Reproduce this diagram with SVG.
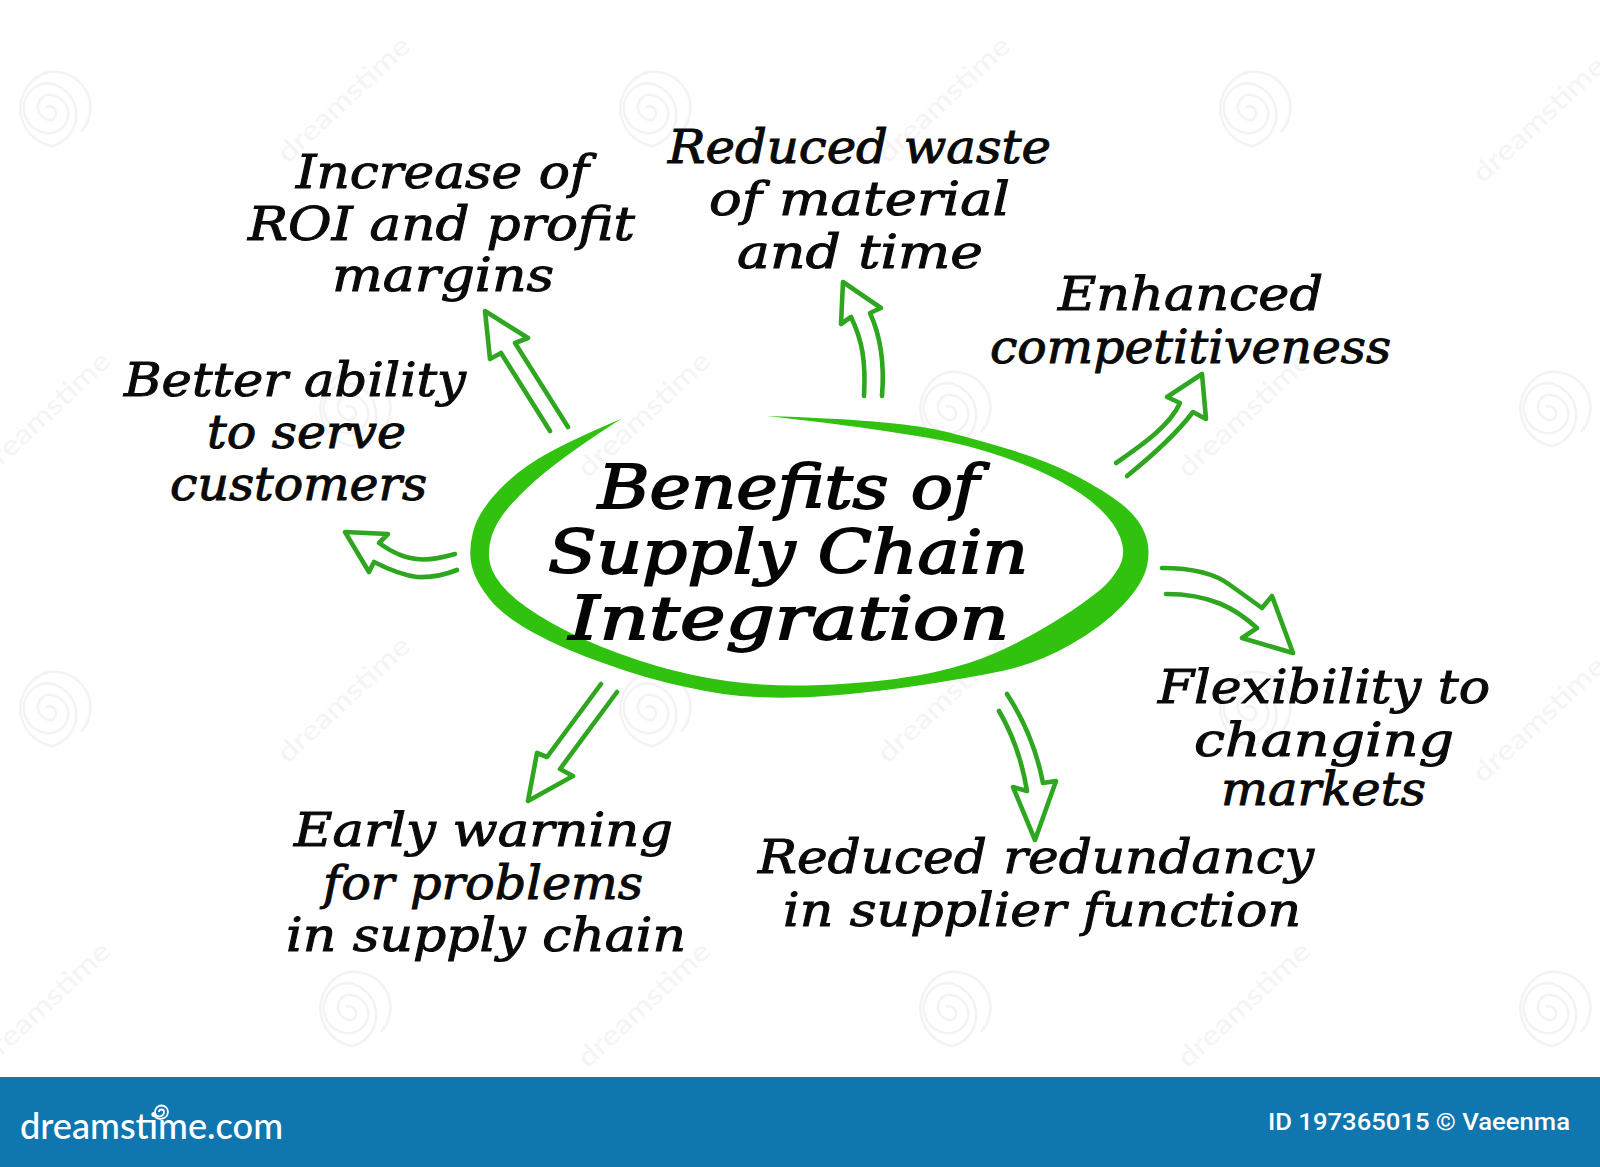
<svg xmlns="http://www.w3.org/2000/svg" width="1600" height="1167" viewBox="0 0 1600 1167">
<style>
.t{font-family:"DejaVu Serif","Liberation Serif",serif;font-style:italic;font-size:46px;fill:#0a0a0a;stroke:#0a0a0a;stroke-width:1}
.h{font-family:"DejaVu Serif","Liberation Serif",serif;font-style:italic;font-size:60px;fill:#050505;stroke:#050505;stroke-width:1.8}
.a{fill:none;stroke:#2ea61f;stroke-width:4.6;stroke-linejoin:round;stroke-linecap:round}
.s{fill:none;stroke:#f3f3f3;stroke-width:2.5}
.w{font-family:"Lato","Liberation Sans",sans-serif;font-size:27px;fill:#f4f4f4}
</style>
<defs>
<path id="sp" d="M-3,-4 A7,7 0 0 1 3,9 A13,13 0 0 1 -3,-16 A19,19 0 0 1 3,22 A25,25 0 0 1 -3,-28 A32,32 0 0 1 3,35 A38,38 0 0 1 -4,-38 A36,36 0 0 1 32,21"/>
<text id="wt" class="w" text-anchor="middle" x="0" y="0" textLength="170" lengthAdjust="spacingAndGlyphs">dreamstime</text>
</defs>
<rect width="1600" height="1167" fill="#fff"/>
<g id="watermark">
<use href="#sp" class="s" x="49" y="111"/><use href="#sp" class="s" x="649" y="111"/><use href="#sp" class="s" x="1249" y="111"/>
<use href="#sp" class="s" x="349" y="411"/><use href="#sp" class="s" x="949" y="411"/><use href="#sp" class="s" x="1549" y="411"/>
<use href="#sp" class="s" x="49" y="711"/><use href="#sp" class="s" x="649" y="711"/><use href="#sp" class="s" x="1249" y="711"/>
<use href="#sp" class="s" x="349" y="1011"/><use href="#sp" class="s" x="949" y="1011"/><use href="#sp" class="s" x="1549" y="1011"/>
<use href="#wt" transform="translate(350,106) rotate(-43)"/><use href="#wt" transform="translate(950,106) rotate(-43)"/><use href="#wt" transform="translate(1545,126) rotate(-43)"/>
<use href="#wt" transform="translate(50,421) rotate(-43)"/><use href="#wt" transform="translate(650,421) rotate(-43)"/><use href="#wt" transform="translate(1250,421) rotate(-43)"/>
<use href="#wt" transform="translate(350,706) rotate(-43)"/><use href="#wt" transform="translate(950,706) rotate(-43)"/><use href="#wt" transform="translate(1545,726) rotate(-43)"/>
<use href="#wt" transform="translate(50,1011) rotate(-43)"/><use href="#wt" transform="translate(650,1011) rotate(-43)"/><use href="#wt" transform="translate(1250,1011) rotate(-43)"/>
</g>
<g id="connectors">
<path class="a" d="M550,431 L501,353 L490,359 L485,311 L528,338 L515,343 L568,427"/>
<path class="a" d="M455,554 Q430,561 417,559 Q400,558 379,543 L388,534 L345,532 L369,572 L374,562 Q400,575 417,577 Q437,578 457,570"/>
<path class="a" d="M864,396 C866,360 862,340 851,317 L841,324 L843,282 L881,308 L870,313 C880,335 885,360 882,396"/>
<path class="a" d="M1116,463 C1145,443 1170,425 1180,403 L1167,397 L1202,374 L1206,419 L1193,412 C1177,433 1153,455 1127,476"/>
<path class="a" d="M1162,568 C1190,568 1213,572 1230,585 L1262,608 L1272,596 L1293,653 L1242,638 L1257,628 C1235,608 1210,594 1166,594"/>
<path class="a" d="M1007,694 C1027,725 1038,757 1043,783 L1056,781 L1035,840 L1013,787 L1027,791 C1022,760 1013,735 999,711"/>
<path class="a" d="M601,684 L547,757 L537,753 L528,801 L573,776 L560,769 L617,692"/>
</g>
<g id="hub">
<path fill="#30c20e" d="M621,419 Q578,437 550,452 Q520,468 499,490 Q478,512 473,532 Q468,552 472,567 Q476,582 489.5,599 Q503,616 534,633 Q565,650 606,664 Q647,679 686,687 Q725,696 757,697 Q789,699 832.5,695.5 Q876,692 922,685 Q968,678 1002,671 Q1036,664 1069,645.5 Q1102,627 1122.5,605.5 Q1143,584 1147,566 Q1151,548 1144.5,532.5 Q1138,517 1121.5,504 Q1105,491 1076.5,476 Q1048,461 1008,449 Q968,437 942.5,431 Q917,425 873.5,421.5 Q830,418 767,416 Q830,423 864.5,428 Q899,433 929,438 Q959,443 986.5,451.5 Q1014,460 1037,470 Q1060,480 1080.5,493.5 Q1101,507 1113,524 Q1122,537 1123,549 Q1124,561 1116,572 Q1108,585 1091,597 Q1074,610 1049,625 Q1024,640 997.5,652 Q971,664 935,672 Q899,680 848.5,683.5 Q798,687 761.5,684.5 Q725,682 690.5,674.5 Q656,667 619,653.5 Q582,640 552.5,623.5 Q523,607 508,592 Q493,577 490,563.5 Q487,550 492,535 Q497,520 512,503.5 Q527,487 545.5,472 Q564,457 592,438 Q610,426 621,419 Z"/>
<text class="h" x="598" y="508" textLength="381" lengthAdjust="spacingAndGlyphs">Benefits of</text>
<text class="h" x="548" y="573" textLength="480" lengthAdjust="spacingAndGlyphs">Supply Chain</text>
<text class="h" x="569" y="639" textLength="440" lengthAdjust="spacingAndGlyphs">Integration</text>
</g>
<g id="n-roi">
<text class="t" x="296" y="188" textLength="293" lengthAdjust="spacingAndGlyphs">Increase of</text>
<text class="t" x="248" y="240" textLength="387" lengthAdjust="spacingAndGlyphs">ROI and profit</text>
<text class="t" x="332" y="291" textLength="222" lengthAdjust="spacingAndGlyphs">margins</text>
</g>
<g id="n-waste">
<text class="t" x="668" y="163" textLength="383" lengthAdjust="spacingAndGlyphs">Reduced waste</text>
<text class="t" x="709" y="215" textLength="301" lengthAdjust="spacingAndGlyphs">of material</text>
<text class="t" x="737" y="268" textLength="246" lengthAdjust="spacingAndGlyphs">and time</text>
</g>
<g id="n-competitive">
<text class="t" x="1058" y="310" textLength="265" lengthAdjust="spacingAndGlyphs">Enhanced</text>
<text class="t" x="990" y="363" textLength="401" lengthAdjust="spacingAndGlyphs">competitiveness</text>
</g>
<g id="n-customers">
<text class="t" x="124" y="396" textLength="342" lengthAdjust="spacingAndGlyphs">Better ability</text>
<text class="t" x="207" y="448" textLength="199" lengthAdjust="spacingAndGlyphs">to serve</text>
<text class="t" x="170" y="500" textLength="257" lengthAdjust="spacingAndGlyphs">customers</text>
</g>
<g id="n-flexibility">
<text class="t" x="1158" y="703" textLength="332" lengthAdjust="spacingAndGlyphs">Flexibility to</text>
<text class="t" x="1194" y="756" textLength="260" lengthAdjust="spacingAndGlyphs">changing</text>
<text class="t" x="1221" y="805" textLength="205" lengthAdjust="spacingAndGlyphs">markets</text>
</g>
<g id="n-redundancy">
<text class="t" x="758" y="873" textLength="556" lengthAdjust="spacingAndGlyphs">Reduced redundancy</text>
<text class="t" x="783" y="926" textLength="518" lengthAdjust="spacingAndGlyphs">in supplier function</text>
</g>
<g id="n-warning">
<text class="t" x="294" y="846" textLength="379" lengthAdjust="spacingAndGlyphs">Early warning</text>
<text class="t" x="323" y="899" textLength="320" lengthAdjust="spacingAndGlyphs">for problems</text>
<text class="t" x="286" y="951" textLength="400" lengthAdjust="spacingAndGlyphs">in supply chain</text>
</g>
<g id="footer">
<rect x="0" y="1077" width="1600" height="90" fill="#0f76b0"/>
<text x="20" y="1139" font-family="Lato,'Liberation Sans',sans-serif" font-size="36" font-weight="500" fill="#fff" textLength="263" lengthAdjust="spacingAndGlyphs">dreamstime.com</text>
<path d="M159,1112 A2.5,2.5 0 0 1 164,1112 A4.5,4.5 0 0 1 155,1112 A6.5,6.5 0 0 1 168,1112 A7.5,7.5 0 0 1 154,1115" fill="none" stroke="#fff" stroke-width="1.8"/>
<text x="1268" y="1130" font-family="Roboto,'Liberation Sans',sans-serif" font-size="23" font-weight="500" fill="#fff" textLength="302" lengthAdjust="spacingAndGlyphs">ID 197365015 © Vaeenma</text>
</g>
</svg>
